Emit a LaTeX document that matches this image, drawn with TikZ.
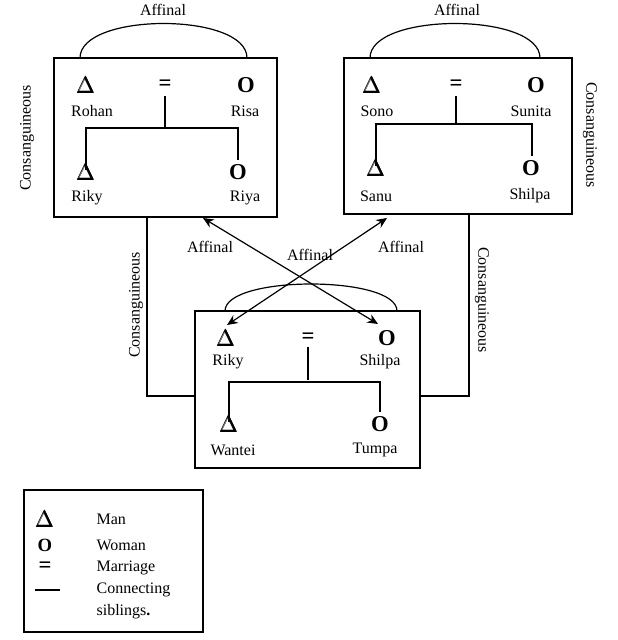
\documentclass[tikz,border=0pt]{standalone}
\usepackage{amsmath}
\usepackage{fontspec}
\setmainfont{Liberation Serif}
\usetikzlibrary{arrows.meta}
\newcommand{\mysym}{$\pmb{\Delta}$}
\begin{document}
\begin{tikzpicture}[x=0.75pt,y=-0.75pt,
  box/.style={draw,line width=1.6pt},
  ln/.style={line width=0.9pt},
  t/.style={font=\fontsize{12}{14}\selectfont,inner sep=1pt},
  sym/.style={font=\fontsize{17}{18}\selectfont\bfseries,inner sep=0pt},
  arr/.style={ln,{Stealth[length=8pt,width=7pt]}-{Stealth[length=8pt,width=7pt]}}]
\useasboundingbox (0,0) rectangle (618,640);
% boxes
\draw[box] (54,58) rectangle (277,217);
\draw[box] (344,58) rectangle (572,214);
\draw[box] (195,311) rectangle (420,468);
\draw[box] (24,490) rectangle (203,632);
% box 1
\node[sym] (m1) at (86,85) {\mysym};
\node[t] (n1) at (92,111) {Rohan};
\node[sym] (e1) at (165,85) {=};
\node[sym] (w1) at (246,85) {O};
\node[t] (n2) at (245,111) {Risa};
\draw[ln] (165,96) -- (165,128);
\draw[ln] (86,170) -- (86,128) -- (238,128) -- (238,160);
\node[sym] (c1) at (86,172) {\mysym};
\node[sym] (c2) at (238,172) {O};
\node[t] at (87,198) {Riky};
\node[t] at (245,198) {Riya};
\draw[ln] (80,58) .. controls (80,12) and (247,12) .. (247,58);
\node[t] at (163,10) {Affinal};
\node[t,rotate=90] at (27,138) {Consanguineous};
% box 2
\node[sym] at (372,85) {\mysym};
\node[t] at (377,111) {Sono};
\node[sym] at (456,85) {=};
\node[sym] at (536,85) {O};
\node[t] at (531,111) {Sunita};
\draw[ln] (456,96) -- (456,124);
\draw[ln] (376,166) -- (376,124) -- (532,124) -- (532,156);
\node[sym] at (376,168) {\mysym};
\node[sym] at (531,168) {O};
\node[t] at (376,196) {Sanu};
\node[t] at (530,196) {Shilpa};
\draw[ln] (370,58) .. controls (370,12) and (540,12) .. (540,58);
\node[t] at (457,10) {Affinal};
\node[t,rotate=-90] at (590,135) {Consanguineous};
% box 3
\node[sym] at (226,338) {\mysym};
\node[t] at (228,362) {Riky};
\node[sym] at (308,338) {=};
\node[sym] at (387,338) {O};
\node[t] at (380,362) {Shilpa};
\draw[ln] (308,347) -- (308,380);
\draw[ln] (229,422) -- (229,382) -- (380,382) -- (380,412);
\node[sym] at (229,424) {\mysym};
\node[sym] at (380,424) {O};
\node[t] at (233,450) {Wantei};
\node[t] at (375,450) {Tumpa};
\draw[ln] (225,311) .. controls (225,275) and (397,275) .. (397,311);
\node[t] at (310,255) {Affinal};
% consanguineous links
\draw[ln] (147,217) -- (147,396) -- (195,396);
\node[t,rotate=90] at (136,305) {Consanguineous};
\draw[ln] (469,214) -- (469,396) -- (420,396);
\node[t,rotate=-90] at (482,300) {Consanguineous};
% affinal cross arrows
\coordinate (x1a) at (203,218); \coordinate (x1b) at (378,324);
\coordinate (x2a) at (387,218); \coordinate (x2b) at (227,325);
\draw[arr] (x1a) -- (x1b);
\draw[arr] (x2a) -- (x2b);
\node[t] at (210,247) {Affinal};
\node[t] at (401,247) {Affinal};
% legend
\node[sym] at (45,519) {\mysym};
\node[t,anchor=west] at (95,519) {Man};
\node[sym] at (45,545) {\fontsize{14}{14}\selectfont O};
\node[t,anchor=west] at (95,545) {Woman};
\node[sym] at (45,567) {=};
\node[t,anchor=west] at (95,568) {Marriage};
\draw[ln] (35,590) -- (60,590);
\node[t,anchor=west] at (95,590) {Connecting};
\node[t,anchor=west] at (95,612) {siblings\textbf{.}};
\end{tikzpicture}
\end{document}
